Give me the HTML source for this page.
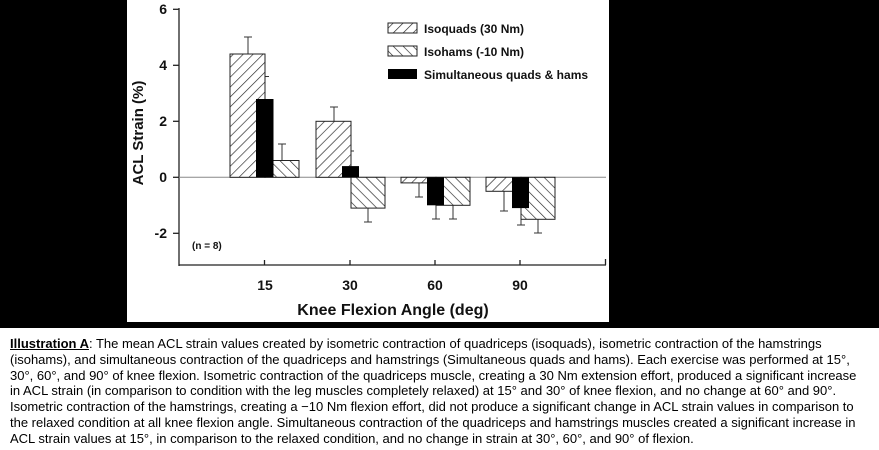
<!DOCTYPE html>
<html><head><meta charset="utf-8"><style>
body{margin:0;width:879px;height:450px;background:#000;overflow:hidden;position:relative;font-family:"Liberation Sans",Arial,sans-serif}
#cap{position:absolute;left:0;top:328px;width:879px;height:122px;background:#fff}
#cap div{position:absolute;left:10px;font-size:13px;line-height:15px;white-space:nowrap;color:#000}
</style></head><body>
<svg width="879" height="322" style="position:absolute;left:0;top:0" font-family="Liberation Sans, Arial, sans-serif">
<defs>
<pattern id="pq" width="7" height="7" patternUnits="userSpaceOnUse" patternTransform="rotate(45)"><rect width="7" height="7" fill="#fff"/><line x1="0" y1="0" x2="0" y2="7" stroke="#222" stroke-width="1.3"/></pattern>
<pattern id="ph" width="7" height="7" patternUnits="userSpaceOnUse" patternTransform="rotate(-45)"><rect width="7" height="7" fill="#fff"/><line x1="0" y1="0" x2="0" y2="7" stroke="#222" stroke-width="1.3"/></pattern>
</defs>
<rect x="127" y="0" width="482" height="322" fill="#fff"/>
<g stroke="#222" stroke-width="1.3" fill="none">
<line x1="179" y1="8" x2="179" y2="266"/>
<line x1="179" y1="265" x2="606" y2="265"/>
<line x1="173" y1="9.3" x2="179" y2="9.3"/><line x1="173" y1="65.3" x2="179" y2="65.3"/><line x1="173" y1="121.3" x2="179" y2="121.3"/><line x1="173" y1="177.3" x2="179" y2="177.3"/><line x1="173" y1="233.3" x2="179" y2="233.3"/>
<line x1="264.5" y1="265" x2="264.5" y2="260"/><line x1="350" y1="265" x2="350" y2="260"/><line x1="435" y1="265" x2="435" y2="260"/><line x1="520" y1="265" x2="520" y2="260"/><line x1="605.5" y1="265" x2="605.5" y2="259"/>
</g>
<line x1="179" y1="177.3" x2="606" y2="177.3" stroke="#888" stroke-width="1"/>
<g stroke="#333" stroke-width="1">
<line x1="248" y1="54" x2="248" y2="37"/><line x1="244" y1="37" x2="252" y2="37"/>
<line x1="265" y1="99" x2="265" y2="76.5"/><line x1="261" y1="76.5" x2="269" y2="76.5"/>
<line x1="282" y1="160" x2="282" y2="144"/><line x1="278" y1="144" x2="286" y2="144"/>
<line x1="334" y1="121" x2="334" y2="107"/><line x1="330" y1="107" x2="338" y2="107"/>
<line x1="350" y1="166" x2="350" y2="151"/><line x1="346" y1="151" x2="354" y2="151"/>
<line x1="368" y1="208" x2="368" y2="222"/><line x1="364" y1="222" x2="372" y2="222"/>
<line x1="419" y1="183" x2="419" y2="197"/><line x1="415" y1="197" x2="423" y2="197"/>
<line x1="436" y1="205" x2="436" y2="219"/><line x1="432" y1="219" x2="440" y2="219"/>
<line x1="453" y1="205" x2="453" y2="219"/><line x1="449" y1="219" x2="457" y2="219"/>
<line x1="504" y1="191" x2="504" y2="211"/><line x1="500" y1="211" x2="508" y2="211"/>
<line x1="521" y1="208" x2="521" y2="225"/><line x1="517" y1="225" x2="525" y2="225"/>
<line x1="538" y1="219" x2="538" y2="233"/><line x1="534" y1="233" x2="542" y2="233"/>
</g>
<g stroke="#222" stroke-width="1">
<rect x="230" y="54" width="35" height="123.3" fill="url(#pq)"/>
<rect x="265" y="160.5" width="34" height="16.8" fill="url(#ph)"/>
<rect x="316" y="121.3" width="35" height="56" fill="url(#pq)"/>
<rect x="351" y="177.3" width="34" height="30.8" fill="url(#ph)"/>
<rect x="401" y="177.3" width="35" height="5.6" fill="url(#pq)"/>
<rect x="436" y="177.3" width="34" height="28" fill="url(#ph)"/>
<rect x="486" y="177.3" width="35" height="14" fill="url(#pq)"/>
<rect x="521" y="177.3" width="34" height="42" fill="url(#ph)"/>
</g>
<g fill="#000">
<rect x="256" y="99" width="17.5" height="78.3"/>
<rect x="342" y="166.1" width="17" height="11.2"/>
<rect x="427" y="177.3" width="17" height="28"/>
<rect x="512" y="177.3" width="17" height="30.8"/>
</g>
<rect x="388" y="23" width="29" height="10" fill="url(#pq)" stroke="#222"/>
<rect x="388" y="46" width="29" height="10" fill="url(#ph)" stroke="#222"/>
<rect x="388" y="69" width="29" height="10" fill="#000"/>
<g font-size="12" font-weight="bold" fill="#111">
<text x="424" y="33">Isoquads (30 Nm)</text>
<text x="424" y="56">Isohams (-10 Nm)</text>
<text x="424" y="79">Simultaneous quads &amp; hams</text>
<text x="192" y="249" font-size="10">(n = 8)</text>
</g>
<g font-size="14" font-weight="bold" fill="#111" text-anchor="end">
<text x="167" y="14">6</text><text x="167" y="70">4</text><text x="167" y="126">2</text><text x="167" y="182">0</text><text x="167" y="238">-2</text>
</g>
<g font-size="14" font-weight="bold" fill="#111" text-anchor="middle">
<text x="265" y="290">15</text><text x="350" y="290">30</text><text x="435" y="290">60</text><text x="520" y="290">90</text>
<text x="393" y="315" font-size="16">Knee Flexion Angle (deg)</text>
<text transform="translate(143,133) rotate(-90)" font-size="15">ACL Strain (%)</text>
</g>
</svg>
<div id="cap">
<div style="top:8px"><b><u>Illustration A</u></b>: The mean ACL strain values created by isometric contraction of quadriceps (isoquads), isometric contraction of the hamstrings</div>
<div style="top:23.8px">(isohams), and simultaneous contraction of the quadriceps and hamstrings (Simultaneous quads and hams). Each exercise was performed at 15°,</div>
<div style="top:39.6px">30°, 60°, and 90° of knee flexion. Isometric contraction of the quadriceps muscle, creating a 30 Nm extension effort, produced a significant increase</div>
<div style="top:55.4px">in ACL strain (in comparison to condition with the leg muscles completely relaxed) at 15° and 30° of knee flexion, and no change at 60° and 90°.</div>
<div style="top:71.2px">Isometric contraction of the hamstrings, creating a −10 Nm flexion effort, did not produce a significant change in ACL strain values in comparison to</div>
<div style="top:87px">the relaxed condition at all knee flexion angle. Simultaneous contraction of the quadriceps and hamstrings muscles created a significant increase in</div>
<div style="top:102.8px">ACL strain values at 15°, in comparison to the relaxed condition, and no change in strain at 30°, 60°, and 90° of flexion.</div>
</div>
</body></html>
